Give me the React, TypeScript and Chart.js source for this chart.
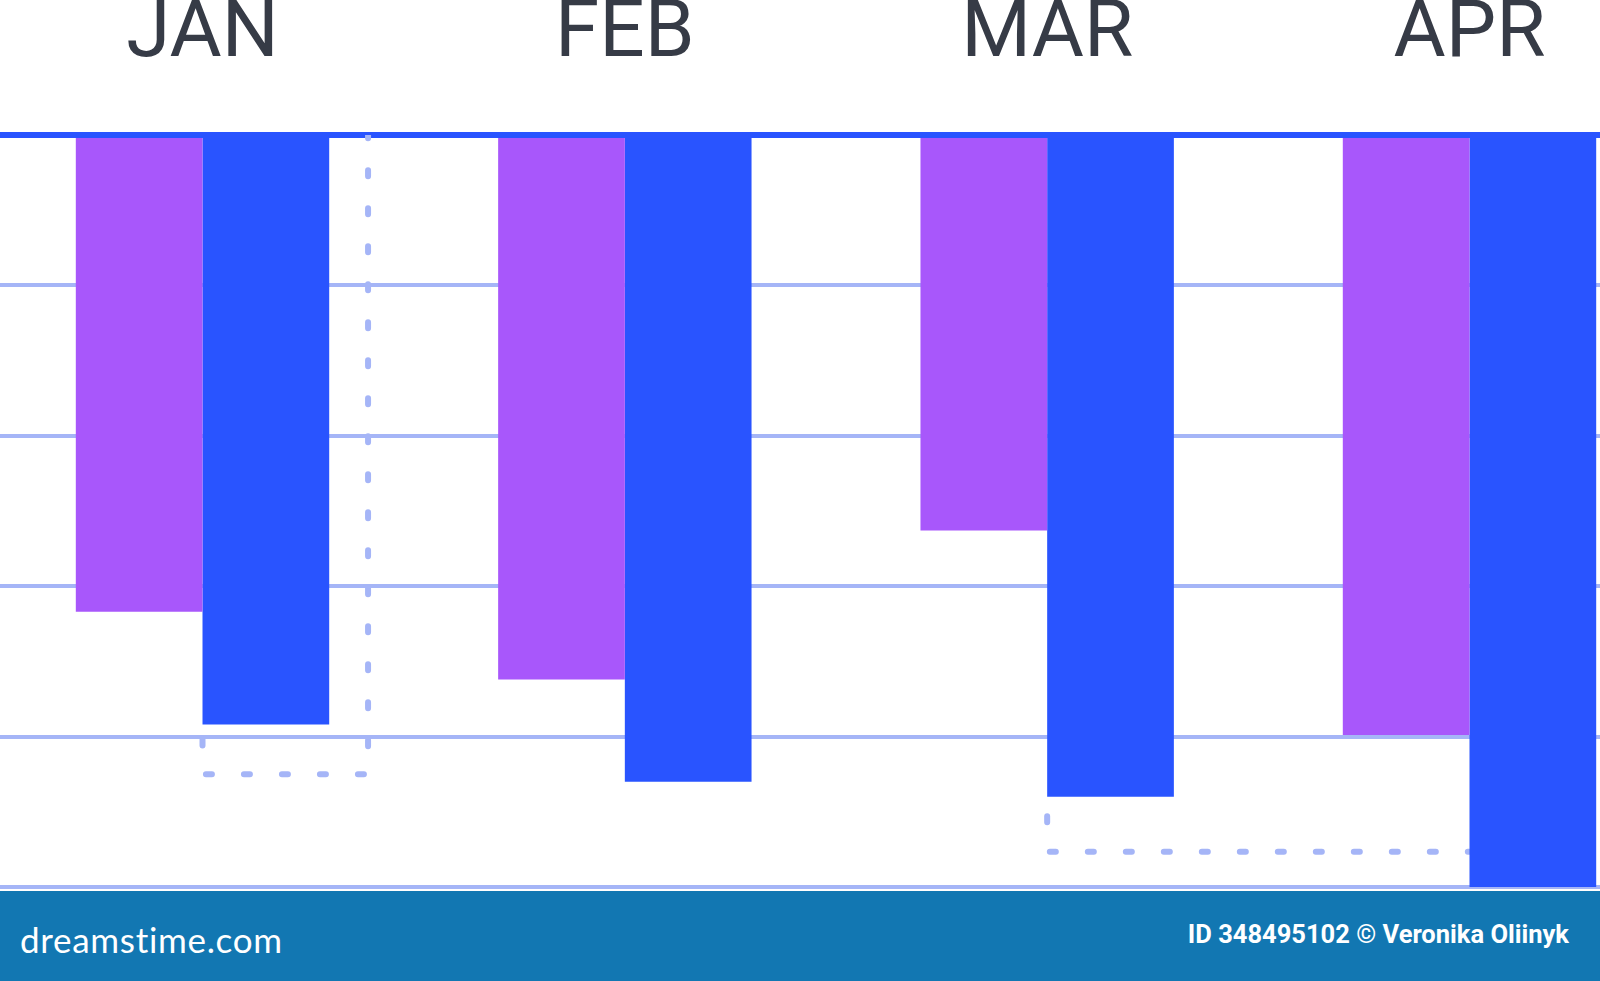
import React, { useEffect, useRef } from "react";
import { Chart, registerables } from "chart.js";

Chart.register(...registerables);

// ---- data ----
const months = ["JAN", "FEB", "MAR", "APR"];
const purpleValues = [3.17, 3.62, 2.63, 3.99];
const blueValues = [3.92, 4.3, 4.4, 5.0];
const yMin = 0;
const yMax = 5;
// dotted connector lines (data units)
const janConnectorX = [0, 0, 0.392, 0.392];
const janConnectorY = [4.02, 4.25, 4.25, 0];
const marConnectorX = [2, 2, 3];
const marConnectorY = [4.53, 4.765, 4.765];
const siteText = "dreamstime.com";
const creditText = "ID 348495102 \u00A9 Veronika Oliinyk";

// ---- styles ----
const PURPLE = "#A857FB";
const BLUE = "#2954FF";
const GRID = "#A5B5F7";
const LABEL = "#363B46";
const FOOTER = "#1277B2";

const CANVAS_SHIFT = 63;

export default function App() {
  const canvasRef = useRef<HTMLCanvasElement | null>(null);

  useEffect(() => {
    if (!canvasRef.current) return;
    const toPoints = (xs: number[], ys: number[]) => xs.map((x, i) => ({ x, y: ys[i] }));
    const connectorStyle = {
      type: "line",
      borderColor: GRID,
      borderWidth: 6,
      borderDash: [6, 32],
      borderCapStyle: "round",
      pointRadius: 0,
      fill: false,
      tension: 0,
      order: 3,
    };
    const chart = new Chart(canvasRef.current, {
      type: "bar",
      data: {
        datasets: [
          {
            type: "bar",
            label: "A",
            data: months.map((_, i) => ({ x: i, y: purpleValues[i] })),
            backgroundColor: PURPLE,
            borderWidth: 0,
            order: 1,
          },
          {
            type: "bar",
            label: "B",
            data: months.map((_, i) => ({ x: i, y: blueValues[i] })),
            backgroundColor: BLUE,
            borderWidth: 0,
            order: 1,
          },
          { ...connectorStyle, label: "c1", data: toPoints(janConnectorX, janConnectorY) } as any,
          { ...connectorStyle, label: "c2", data: toPoints(marConnectorX, marConnectorY) } as any,
        ],
      },
      options: {
        animation: false,
        responsive: true,
        maintainAspectRatio: false,
        layout: { autoPadding: false, padding: { top: 0, left: 0, right: 0, bottom: 4 } },
        datasets: {
          bar: { categoryPercentage: 0.6, barPercentage: 1.0 },
        },
        plugins: {
          legend: { display: false },
          tooltip: { enabled: false },
        },
        scales: {
          x: {
            type: "linear",
            position: "top",
            offset: false,
            min: -0.4795,
            max: 3.309,
            grid: { display: false, drawTicks: false, tickLength: 0 },
            border: { display: false },
            ticks: {
              stepSize: 1,
              includeBounds: false,
              autoSkip: false,
              maxRotation: 0,
              minRotation: 0,
              padding: 50,
              color: LABEL,
              font: { family: "Roboto", size: 80, weight: "400", lineHeight: 1.225 },
              callback: (v: any) => (months[v as number] !== undefined ? months[v as number] : ""),
            },
          },
          y: {
            type: "linear",
            reverse: true,
            min: yMin,
            max: yMax,
            border: { display: false },
            grid: {
              drawTicks: false,
              tickLength: 0,
              color: (ctx: any) => (ctx.tick && ctx.tick.value === 0 ? BLUE : GRID),
              lineWidth: (ctx: any) => (ctx.tick && ctx.tick.value === 0 ? 6 : 4),
            },
            ticks: { display: false, stepSize: 1 },
          },
        },
      } as any,
    });
    return () => chart.destroy();
  }, []);

  return (
    <div
      style={{
        position: "absolute",
        left: 0,
        top: 0,
        width: 1600,
        height: 981,
        background: "#ffffff",
        overflow: "hidden",
      }}
    >
      <div
        style={{
          position: "absolute",
          left: 0,
          top: -CANVAS_SHIFT,
          width: 1600,
          height: 891 + CANVAS_SHIFT,
        }}
      >
        <canvas ref={canvasRef} />
      </div>
      <div
        style={{
          position: "absolute",
          left: 0,
          top: 891,
          width: 1600,
          height: 90,
          background: FOOTER,
        }}
      >
        <span
          style={{
            position: "absolute",
            left: 20,
            top: 31,
            fontFamily: "Lato, 'Open Sans', sans-serif",
            fontSize: 35,
            lineHeight: "35px",
            color: "#ffffff",
            whiteSpace: "nowrap",
            letterSpacing: 0.7,
          }}
        >
          {siteText}
        </span>
        <span
          style={{
            position: "absolute",
            right: 31,
            top: 31,
            fontFamily: "Roboto, sans-serif",
            fontWeight: 700,
            fontSize: 25.5,
            lineHeight: "25px",
            color: "#ffffff",
            whiteSpace: "nowrap",
          }}
        >
          {creditText}
        </span>
      </div>
    </div>
  );
}
